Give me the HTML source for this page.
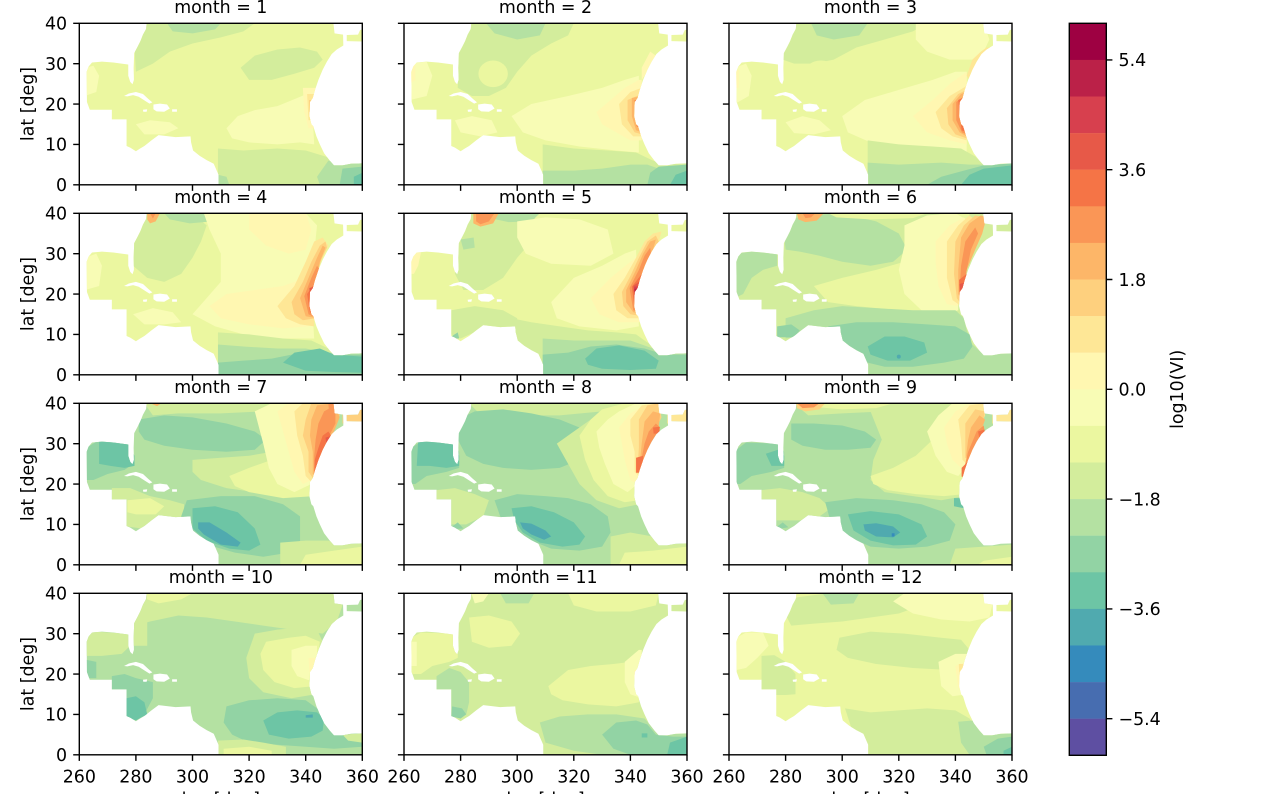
<!DOCTYPE html>
<html><head><meta charset="utf-8"><style>
html,body{margin:0;padding:0;background:#fff;}
svg{display:block;}
text{font-family:"DejaVu Sans","Liberation Sans",sans-serif;font-size:17.4px;fill:#000;}
.c0{fill:#5e4fa2}.c1{fill:#476db0}.c2{fill:#358bbc}.c3{fill:#50aaaf}.c4{fill:#6dc5a5}.c5{fill:#92d3a4}.c6{fill:#b4e1a2}.c7{fill:#d3ed9c}.c8{fill:#ebf7a0}.c9{fill:#f8fcb5}.c10{fill:#fff7b1}.c11{fill:#fee796}.c12{fill:#fed07e}.c13{fill:#fdb668}.c14{fill:#fa9656}.c15{fill:#f57446}.c16{fill:#e75948}.c17{fill:#d7404e}.c18{fill:#bb2148}.c19{fill:#9e0142}
</style></head><body>
<svg width="1280" height="794" viewBox="0 0 1280 794" xmlns="http://www.w3.org/2000/svg">
<defs>
<clipPath id="oc" clipPathUnits="userSpaceOnUse">
<path d="M283.8,40 L349.8,40 L350.2,37.5 L353.2,37.2 L353.3,34.5 L351,33.5 L349.2,32.4 L347.5,30.5 L346,28.5 L344.5,26 L343.3,23.5 L342.5,21.5 L341.5,20.5 L341.3,17 L342,15 L342.7,14.5 L343.8,12 L345,10 L346.5,7.8 L348.5,6 L350,4.8 L353,4.8 L356,5.2 L360,5.3 L360,0 L309.2,0 L309.2,2.5 L307.5,5.2 L305,6.1 L302.5,7.2 L300.2,8.5 L299.5,10.5 L299.3,12 L294,11.8 L288,12.3 L285.5,11 L283,9.6 L281.5,9 L280,8.3 L278,9.2 L276.7,9.6 L276.7,16.2 L271.5,16.2 L271.5,18.6 L263.7,18.6 L262.7,20.5 L262.6,28 L263.3,29.3 L264.5,30.3 L268,30.5 L272,30.3 L277.3,29.8 L277.3,27 L278,25.5 L278.8,24.9 L279.3,26 L279.2,29 L279.4,32.6 L280.6,34.2 L281.6,35.6 L282.5,37.2 L283.6,38.6 Z M354.5,37.1 L358.5,37.2 L359.2,38.3 L360,38.5 L360,35.5 L354.5,35.6 Z"/>
</clipPath>
<g id="isl" fill="#fff">
<path d="M275.8,22 L277.5,22.6 L280,23 L282.5,22.5 L284.3,21.3 L285.8,20.4 L284.8,20.1 L283,20.9 L281,21.8 L279,22.2 L277,21.9 Z"/>
<path d="M286.2,19.9 L288.5,20.1 L291,19.9 L292,18.9 L290,18.1 L287.3,18.2 L286.2,18.7 Z"/>
<path d="M282.5,18.6 L284,18.7 L283.8,18.1 L282.6,18.1 Z"/>
<path d="M292.8,18.7 L294.5,18.7 L294.5,18.1 L292.8,18.1 Z"/>
</g>
<g id="ax" fill="none" stroke="#000" stroke-width="1.4">
<rect x="0" y="0" width="283" height="161.5"/>
<path d="M0,161.5v6.1M56.6,161.5v6.1M113.2,161.5v6.1M169.8,161.5v6.1M226.4,161.5v6.1M283,161.5v6.1M0,0h-6.1M0,40.4h-6.1M0,80.75h-6.1M0,121.1h-6.1M0,161.5h-6.1"/>
</g>
</defs>
<rect x="0" y="0" width="1280" height="794" fill="#fff"/>

<!-- Month 1 -->
<g transform="translate(79.3,23.3) scale(2.83,-4.0375) translate(-260,-40)">
<g clip-path="url(#oc)">
<rect class="c8" x="259" y="-1" width="102" height="42"/>
<path class="c7" d="M279,40 L322,40 L318,38 L310,36.5 L300,35 L292,33 L286,30 L280,28 Z"/>
<path class="c6" d="M291,40 L310,40 L308,38.5 L300,37.5 L293,38 Z"/>
<path class="c7" d="M317,29 L322,32 L330,33.5 L338,34 L344,33 L346,31 L343,29 L336,27.5 L328,26 L320,26 Z"/>
<path class="c9" d="M312,14 L316,17 L322,18.5 L330,19.5 L337,21.5 L342,23 L343,10 L338,10.5 L330,10 L320,10.5 L314,11.5 Z"/>
<path class="c9" d="M280,15 L285,16 L292,15.5 L295,14 L290,12.5 L283,12.5 Z"/>
<path class="c9" d="M262,22 L262,29 L265,29.5 L267,27 L266,23 Z"/>
<path class="c10" d="M339,24 L343.5,24 L343.5,14 L341,14 L339.5,18 Z"/>
<path class="c11" d="M340.5,22.5 L343.5,22.5 L343.5,16 L341,16 Z"/>
<path class="c12" d="M341.2,21 L343,21 L343,18 L341.2,18 Z"/>
<path class="c7" d="M309,9 L318,8.5 L330,9 L340,8.5 L347,7 L352,5.5 L360,5.5 L360,0 L309,0 Z"/>
<path class="c6" d="M348,6 L352,5.5 L360,5.5 L360,0 L345,0 L344,2 Z"/>
<path class="c5" d="M353,4 L360,4.5 L360,0 L352,0 Z"/>
<path class="c4" d="M357,2 L360,3 L360,0 L357,0 Z"/>
<path class="c6" d="M309,2.5 L312,2 L313,0 L309,0 Z"/>
</g>
<use href="#isl"/>
</g>

<!-- Month 2 -->
<g transform="translate(404,23.3) scale(2.83,-4.0375) translate(-260,-40)">
<g clip-path="url(#oc)">
<rect class="c8" x="259" y="-1" width="102" height="42"/>
<path class="c7" d="M279,40 L320,40 L318,37 L312,35 L305,32 L300,28 L296,24 L290,22 L284,22 L279,24 Z"/>
<path class="c6" d="M289,40 L310,40 L308,37 L300,36 L292,37.5 Z"/>
<ellipse class="c8" cx="291.5" cy="27.5" rx="5.2" ry="3.3"/>
<path class="c9" d="M298,17 L305,20 L318,22 L330,24 L338,26 L343,27 L343,8 L335,8.5 L322,9.5 L310,11 L302,13 Z"/>
<path class="c9" d="M262,21 L262,30 L268,30.5 L270,27 L268,22 Z"/>
<path class="c10" d="M262,25 L262,30 L264,30 L264,26 Z"/>
<path class="c9" d="M278,16 L284,17 L291,16 L293,13 L287,12 L280,13 Z"/>
<path class="c10" d="M344,29 L347,33 L349,32 L346,28 L344,26 Z"/>
<path class="c10" d="M328,18 L333,21 L338,24 L343,26 L344,26 L344,11 L340,11 L335,13 L330,15 Z"/>
<path class="c11" d="M336,20 L340,23 L344,24 L344,12 L341,12 L337,15 Z"/>
<path class="c12" d="M339,21 L344,22.5 L344,12.5 L341.5,13 L339,16 Z"/>
<path class="c13" d="M340.5,21.5 L344,22 L344,13 L342,13.5 L340.5,17 Z"/>
<path class="c15" d="M341.5,21 L344,21 L344,14 L342.2,14.5 Z"/>
<path class="c7" d="M309,10 L320,9 L332,8.5 L342,8 L348,6 L352,5 L360,5.3 L360,0 L309,0 Z"/>
<path class="c6" d="M309,3.5 L320,3.5 L330,4 L340,5 L346,5 L350,4 L360,4 L360,0 L309,0 Z"/>
<path class="c5" d="M346,0 L347,3 L350,4.5 L360,5 L360,0 Z"/>
<path class="c4" d="M354,0 L356,2.5 L360,3.5 L360,0 Z"/>
</g>
<use href="#isl"/>
</g>

<!-- Month 3 -->
<g transform="translate(729,23.3) scale(2.83,-4.0375) translate(-260,-40)">
<g clip-path="url(#oc)">
<rect class="c8" x="259" y="-1" width="102" height="42"/>
<path class="c7" d="M279,40 L330,40 L325,38 L315,36 L305,34 L297,31 L290,30 L283,30 L279,31 Z"/>
<path class="c6" d="M289,40 L309,40 L306,37 L297,36 L291,37 Z"/>
<ellipse class="c8" cx="292.5" cy="27.5" rx="6" ry="3.3"/>
<path class="c9" d="M326,40 L350,40 L352,36 L350,33 L346,31 L338,31 L330,33 L326,36 Z"/>
<path class="c9" d="M300,17 L308,21 L320,23.5 L332,26 L340,28 L344,28 L344,8 L335,8.5 L322,9 L310,10.5 L302,13 Z"/>
<path class="c9" d="M280,15.5 L286,17 L292,16 L296,13.5 L290,12.5 L283,12.8 Z"/>
<path class="c9" d="M262,20 L262,29 L266,30 L268,27 L267,22 Z"/>
<path class="c10" d="M262,24 L262,28 L263.5,28.5 L263.5,24 Z"/>
<path class="c10" d="M325,17 L332,21 L338,25 L344,28 L344,10 L338,11 L330,13 Z"/>
<path class="c11" d="M344,27 L346,31 L349,33 L351,34 L353.5,34 L353,33 L350,32 L347,29 L345,26 Z"/>
<path class="c11" d="M333,18 L338,22 L344,24.5 L344,11 L339,12 L335,14 Z"/>
<path class="c12" d="M337,19 L341,22.5 L344,23.5 L344,11.5 L340,12.5 L337.5,15 Z"/>
<path class="c13" d="M339,20 L342,22.5 L344,23 L344,12 L341.5,13 L339,16 Z"/>
<path class="c14" d="M340.3,20.5 L344,22.5 L344,12.5 L342.3,13 L340.3,16 Z"/>
<path class="c15" d="M341,21 L344,22 L344,13 L342.2,13.5 Z"/>
<path class="c16" d="M341.6,20.5 L344,20.5 L344,15 L342.2,15 Z"/>
<path class="c7" d="M309,11 L320,10 L332,9.5 L342,9 L347,7 L350,5 L360,5.3 L360,0 L309,0 Z"/>
<path class="c6" d="M309,5.5 L320,5 L335,5.5 L345,5 L360,5 L360,0 L309,0 Z"/>
<path class="c5" d="M330,0 L335,2 L343,3.5 L350,4.8 L360,5.3 L360,0 Z"/>
<path class="c4" d="M342,0 L345,2.5 L350,4 L360,4.8 L360,0 Z"/>
</g>
<use href="#isl"/>
</g>

<!-- Month 4 -->
<g transform="translate(79.3,213.3) scale(2.83,-4.0375) translate(-260,-40)">
<g clip-path="url(#oc)">
<rect class="c8" x="259" y="-1" width="102" height="42"/>
<path class="c7" d="M279,40 L300,40 L305,37 L303,33 L300,29 L296,25 L290,23 L284,24 L279,27 Z"/>
<path class="c6" d="M290,40 L310,40 L307,38 L299,37.5 L292,38.5 Z"/>
<path class="c13" d="M284,40 L288.5,40 L287,38 L285,37.5 L284,38.5 Z"/>
<path class="c14" d="M285,40 L287,40 L286,38.7 Z"/>
<path class="c9" d="M304,40 L340,40 L344,37 L343,30 L342,20 L343,9 L330,9 L318,10 L308,12 L300,15 L305,19 L310,23 L310,30 L306,36 Z"/>
<path class="c9" d="M279,15 L286,16.5 L293,15.5 L296,13 L290,12.5 L283,12.5 Z"/>
<path class="c9" d="M262,21 L262,29 L266,30 L268,27 L267,22 Z"/>
<path class="c10" d="M320,40 L340,40 L342,36 L340,31 L334,30 L326,32 L320,36 Z"/>
<path class="c10" d="M306,17 L312,20 L322,21 L332,22 L340,24 L341,12 L332,11.5 L320,12.5 L310,14 Z"/>
<path class="c11" d="M330,17 L336,22 L340,28 L343,33 L346,34 L348,32 L346,29 L344,26 L343,22 L343,12 L338,12.5 L333,14 Z"/>
<path class="c12" d="M335,18 L339,23 L342,28 L345,32 L347,33 L347.5,31.5 L345.5,28.5 L344,25 L343.5,14 L339,13.5 L336,15 Z"/>
<path class="c13" d="M338,19 L341,24 L344,29 L346,32 L347,31.5 L345,28 L344,24 L344,14 L340,14.5 Z"/>
<path class="c14" d="M339.5,19.5 L342,24 L344,27 L345,26 L344,24 L344,14 L341,15 Z"/>
<path class="c15" d="M340.5,20 L344,23.5 L344,14.5 L341.5,15.5 Z"/>
<path class="c16" d="M341.3,21.5 L344,22 L344,15 L342,15.5 Z"/>
<path class="c7" d="M309,10.5 L320,10 L332,9 L342,8.5 L348,6.5 L360,5.5 L360,0 L309,0 Z"/>
<path class="c6" d="M309,7.5 L318,7 L330,6.5 L340,6.5 L348,5.5 L360,5.5 L360,0 L309,0 Z"/>
<path class="c5" d="M309,3 L318,3.5 L328,4 L335,5 L345,5 L360,5 L360,0 L309,0 Z"/>
<path class="c4" d="M332,3 L336,5.5 L345,6.5 L350,5 L360,4.5 L360,0.5 L350,0.7 L340,1 Z"/>
</g>
<use href="#isl"/>
</g>

<!-- Month 5 -->
<g transform="translate(404,213.3) scale(2.83,-4.0375) translate(-260,-40)">
<g clip-path="url(#oc)">
<rect class="c8" x="259" y="-1" width="102" height="42"/>
<path class="c7" d="M279,40 L305,40 L308,37 L305,33 L300,29 L295,24 L288,21 L281,21 L278,25 Z"/>
<path class="c6" d="M290,40 L308,40 L305,38 L297,37.8 L291,38.7 Z"/>
<path class="c6" d="M280,33.5 L284.6,34 L285,31.5 L281,31 Z"/>
<path class="c13" d="M284.5,40 L293.5,40 L291.5,37.5 L287,36.7 L284.5,37.5 Z"/>
<path class="c14" d="M285.5,40 L292,40 L290,38 L287,37.3 L285.5,38 Z"/>
<path class="c9" d="M300,38 L310,39 L322,38.5 L332,36 L334,30 L326,27 L312,27.5 L303,30 L300,34 Z"/>
<path class="c9" d="M312,18 L320,24 L330,27 L338,30 L342,31 L343,12 L335,11 L322,12 L314,14 Z"/>
<path class="c10" d="M262,25 L262,30.3 L266,30.3 L265,27 L263.5,25 Z"/>
<path class="c10" d="M326,19 L333,24 L340,28 L344,30 L344,13 L336,13 L329,15 Z"/>
<path class="c11" d="M334,20 L338,24 L342,29 L345,33 L348,35 L351,35.5 L350,33 L347,30 L345,27 L344,14 L339,14 L335,16 Z"/>
<path class="c12" d="M337,20.5 L340,24.5 L343,29 L346,33 L349,34.5 L350,33 L347,30 L344.5,26 L344,14.5 L340,15 L337.5,17 Z"/>
<path class="c13" d="M338.5,21 L342,26 L344.5,30 L347,33 L349,33.5 L348,31 L345.5,28 L344,24 L344,15 L341,15.5 L338.5,18 Z"/>
<path class="c14" d="M339.7,21.5 L343,26 L345,29.5 L347,31.5 L347.3,30 L345,27 L344,23 L344,15.5 L341,16 Z"/>
<path class="c15" d="M340.5,21.8 L344,25 L344,16 L341.5,16.5 Z"/>
<path class="c16" d="M341,22 L344,23.5 L344,16.5 L341.7,17 Z"/>
<path class="c17" d="M341.3,21.8 L344,22 L344,17 L341.8,17.5 Z"/>
<path class="c18" d="M341.4,21.3 L344,21.3 L344,18.2 L341.6,18.2 Z"/>
<path class="c7" d="M276.7,16 L285,17 L295,16 L300,14 L300,10 L288,11.5 L280,9 L276.7,10 Z"/>
<path class="c5" d="M276.7,9.5 L279,10.5 L279.5,9 L277,9 Z"/>
<path class="c7" d="M298,14 L305,13 L315,12 L325,11 L335,10.5 L342,10 L346,8 L360,5.5 L360,0 L309,0 L298,8 Z"/>
<path class="c6" d="M309,9 L320,8.5 L330,8.5 L340,8.5 L346,7 L352,5.5 L360,5.5 L360,0 L309,0 Z"/>
<path class="c5" d="M309,5 L318,5.5 L326,7 L335,7.5 L345,6.5 L352,5 L360,5 L360,0 L309,0 Z"/>
<path class="c4" d="M324,4 L328,6.5 L336,7.3 L345,6 L350,3.5 L349,1.5 L340,1.2 L330,1.5 L325,2.5 Z"/>
</g>
<use href="#isl"/>
</g>

<!-- Month 6 -->
<g transform="translate(729,213.3) scale(2.83,-4.0375) translate(-260,-40)">
<g clip-path="url(#oc)">
<rect class="c7" x="259" y="-1" width="102" height="42"/>
<path class="c6" d="M279,38 L287,39.5 L300,40 L312,38 L320,35 L323,31 L318,28 L310,27 L300,28 L292,29.5 L285,30.5 L280,31 Z"/>
<path class="c8" d="M295,40 L330,40 L325,38.8 L310,38.5 L298,39 Z"/>
<path class="c13" d="M284,40 L293.5,40 L291,38.2 L287,37.8 L284.5,38.5 Z"/>
<path class="c14" d="M286,40 L290.5,40 L289,39 L287,38.8 Z"/>
<path class="c6" d="M262,19 L262,30 L268,30.5 L277,30 L277,27 L272,26 L268,24 L265,20 Z"/>
<path class="c8" d="M290,22 L300,24 L312,26 L322,28 L328,33 L330,38 L335,40 L345,40 L343,30 L340,24 L340,16 L332,15.5 L320,16 L305,17 L295,18 Z"/>
<path class="c9" d="M322,37 L330,39.5 L340,40 L345,38 L344,32 L341,25 L341,16 L336,15 L328,16 L322,20 L320,26 L322,32 Z"/>
<path class="c10" d="M333,33 L338,37 L343,39 L347,36 L345,30 L341,24 L341,17 L337,17.5 L334,22 L333,28 Z"/>
<path class="c11" d="M337,33 L341,37 L345,39.5 L349,37 L347,32 L343,26 L342,17 L339,18.5 L337,24 Z"/>
<path class="c12" d="M340,33 L343,37 L347,39.5 L350,39 L349,35 L346,30 L343,24 L342.5,17 L340.5,19 L339.5,25 Z"/>
<path class="c13" d="M342,34 L345,37.5 L349,39.5 L351,39 L349.5,35 L347,31 L344,26 L342.5,18 L341,20 L341,26 Z"/>
<path class="c14" d="M343.5,33 L347,36.5 L348,35 L345.5,31 L344,26 L342.5,19 L341.5,21 L342,27 Z"/>
<path class="c15" d="M341.3,23.5 L344,25 L344,17 L341.5,17.2 Z"/>
<path class="c16" d="M341.5,22.5 L344,23 L344,17.5 L341.8,17.8 Z"/>
<path class="c6" d="M280,14 L290,16 L300,17 L312,16.5 L325,16 L340,16 L343,14 L344,11 L346,7.5 L350,5 L360,5.3 L360,0 L309,0 L300,8 L290,10 L280,9 Z"/>
<path class="c5" d="M277,12 L282,12.5 L285,11 L283,9.3 L277,9.3 Z"/>
<path class="c5" d="M295,12 L305,13 L318,13 L330,12.5 L340,12 L345,10 L346,7 L343,4 L336,3 L325,2 L315,2 L309,3 L303,6 L298,9 Z"/>
<path class="c4" d="M309,7 L315,9.5 L322,9.5 L329,8 L330,5.5 L324,3.5 L316,3.5 L310,5 Z"/>
<ellipse class="c3" cx="320" cy="4.5" rx="0.7" ry="0.5"/>
</g>
<use href="#isl"/>
</g>

<!-- Month 7 -->
<g transform="translate(79.3,403.3) scale(2.83,-4.0375) translate(-260,-40)">
<g clip-path="url(#oc)">
<rect class="c6" x="259" y="-1" width="102" height="42"/>
<path class="c7" d="M283,40 L330,40 L325,38 L310,37.5 L295,37.5 L286,37 Z"/>
<path class="c13" d="M285,40 L289,40 L287.5,39.3 Z"/>
<path class="c5" d="M281,36 L290,37 L300,36.5 L312,35 L322,33 L326,31 L322,28.5 L312,28 L300,28.5 L290,29.5 L283,31 L281,33 Z"/>
<path class="c5" d="M262.6,21 L262.6,29 L266,30.5 L272,30.5 L277.3,30 L279,28 L279,25 L276,23.5 L270,22.5 L265,21 Z"/>
<path class="c4" d="M267,25 L267,30.5 L274,30.5 L277.3,30 L279.5,27 L279.5,24.5 L276,24 L271,24.5 Z"/>
<path class="c7" d="M300,26 L310,26.5 L320,27 L328,28 L332,30 L332,18 L322,18 L312,19 L303,21 L300,23 Z"/>
<path class="c8" d="M313,22 L320,24 L328,26 L332,30 L335,34 L338,38 L340,40 L350,40 L346,34 L343,26 L343,17 L332,16.5 L320,18 L315,19.5 Z"/>
<path class="c9" d="M322,38 L328,40 L348,40 L347,36 L344,32 L342,26 L342,20 L336,18 L330,20 L327,24 L325,30 Z"/>
<path class="c10" d="M330,38 L334,40 L350,40 L349,36 L346,32 L343,27 L342,21 L339,20 L336,23 L334,28 L332,33 Z"/>
<path class="c11" d="M336,38 L339,40 L350,40 L351,37 L348,33 L345,29 L343,24 L342,20.5 L340,22 L339,27 L337,32 Z"/>
<path class="c12" d="M340,36 L342,40 L351,40 L352,37 L349.5,33 L346,29 L344,25 L343,21 L341,23 L341,28 L339,32 Z"/>
<path class="c12" d="M353,39 L360,39 L360,35 L353,35 Z"/>
<path class="c13" d="M342,36 L344,39.5 L350,40 L352,36.5 L350,33 L347,30 L345,26 L344,22 L342.5,22.5 L342.5,28 L341.5,32 Z"/>
<path class="c14" d="M344.5,35 L346.5,38 L349,39 L350.5,35 L348,31.5 L346,29 L344.5,25 L343,22.5 L343,27 L343.5,31 Z"/>
<path class="c14" d="M348,40 L350.5,40 L350.5,35 L348.5,35.5 Z"/>
<path class="c15" d="M346,32 L348,33 L350,31 L348,29.5 L346,28 L344.5,25 L343,22.5 L343.2,26 L344.5,29 Z"/>
<path class="c16" d="M347,31.5 L349.5,32 L349.5,29.5 L347.5,29.3 Z"/>
<path class="c7" d="M271.5,19 L278,19 L285,17 L292,16 L297,15 L297,11 L288,11.5 L282,9 L276.7,9.5 L276.7,16 L271.5,16.2 Z"/>
<path class="c8" d="M277,16 L285,16.5 L290,14.5 L287,12.5 L280,12.5 L277,13 Z"/>
<path class="c5" d="M298,16 L310,17 L322,17 L332,15 L338,12 L338,6 L334,3 L325,2 L315,3 L305,5 L298,9 L296,12 Z"/>
<path class="c4" d="M300,14 L308,14.5 L316,13 L322,9 L324,5 L320,3.5 L313,4 L305,6 L300,9 Z"/>
<path class="c3" d="M302,10.5 L306,10.5 L312,8 L317,5.5 L316,4.5 L310,5 L304,7.5 L302,9 Z"/>
<path class="c7" d="M331,5.5 L340,6 L348,6 L352,5 L360,5.3 L360,0 L331,0 Z"/>
<path class="c8" d="M340,2.5 L350,3.5 L360,4.5 L360,0 L338,0 Z"/>
</g>
<use href="#isl"/>
</g>

<!-- Month 8 -->
<g transform="translate(404,403.3) scale(2.83,-4.0375) translate(-260,-40)">
<g clip-path="url(#oc)">
<rect class="c6" x="259" y="-1" width="102" height="42"/>
<path class="c7" d="M283,40 L335,40 L330,38 L315,37 L300,37 L288,36.5 Z"/>
<path class="c5" d="M279,36 L285,38 L295,38.5 L305,37.5 L315,36 L322,34 L326,30 L322,26 L315,24 L305,23.5 L295,24 L288,25 L282,27 L279,31 Z"/>
<path class="c5" d="M262.6,20 L262.6,29 L266,30.5 L277.3,30 L279.5,28 L279.5,24 L275,23 L268,22 L264,20 Z"/>
<path class="c4" d="M264.5,24.5 L265,30.5 L273,30.5 L277.3,30 L279.5,27 L279.5,24.5 L275,24 L269,24.5 Z"/>
<path class="c7" d="M314,30 L320,33 L326,36 L330,38 L333,40 L350,40 L347,33 L343,25 L343,15 L336,14 L328,16 L322,20 L318,25 Z"/>
<path class="c8" d="M322,32 L326,36 L330,38.5 L338,40 L350,40 L347,34 L343,26 L343,16 L338,15.5 L332,17 L327,21 L324,26 Z"/>
<path class="c9" d="M328,33 L332,36 L336,38 L342,40 L349,40 L347,35 L344,29 L342.5,20 L339,18 L334,20 L331,25 L329,29 Z"/>
<path class="c10" d="M336,34 L340,37.5 L346,40 L350,40 L349.5,36 L346,31 L343.5,25 L342.5,20 L340,21 L338,26 L337,30 Z"/>
<path class="c11" d="M340,36 L344,39.5 L350,40 L350,36 L347,32 L345,27 L343,22 L341.5,23 L341.5,28 L340,32 Z"/>
<path class="c11" d="M353,39 L360,39 L360,35 L353,35 Z"/>
<path class="c12" d="M343,36 L346,39.5 L350,40 L351,36.5 L348.5,33 L346,28 L344,23.5 L342.5,24 L343,29 Z"/>
<path class="c13" d="M345,35.5 L348,38 L350.5,37.5 L350,34 L347.5,31 L345.5,27 L344,23.5 L343.3,25 L344,30 Z"/>
<path class="c14" d="M346.5,33 L349,35 L350.5,34 L348.5,31 L346,28 L344.5,24.5 L343.7,25.5 L345,30 Z"/>
<path class="c15" d="M342,26.5 L344.5,27 L344.5,22.8 L342,22.8 Z"/>
<path class="c15" d="M348,34 L350.3,34.2 L350.3,32.5 L348.2,32.5 Z"/>
<path class="c7" d="M271.5,18.5 L278,19 L285,17.5 L290,16 L288,12 L282,10 L276.7,10 L276.7,16.2 L271.5,16.2 Z"/>
<path class="c5" d="M276.7,9.3 L279,10.5 L281,9 L277,8.8 Z"/>
<path class="c5" d="M292,16 L300,17.5 L310,17 L318,16.5 L326,15 L332,12 L333,8 L330,4.5 L322,3.5 L312,4 L305,6 L298,9.5 L294,12 Z"/>
<path class="c4" d="M298,14 L305,14.5 L313,13 L320,10.5 L324,7 L322,5 L316,4.5 L308,5.5 L302,8 L299,11 Z"/>
<path class="c3" d="M301,10.5 L305,10.2 L310,8.5 L312,7 L309.5,6.2 L305,7.5 L302,9 Z"/>
<path class="c7" d="M333,7 L340,8 L348,7 L352,5 L360,5.3 L360,0 L333,0 Z"/>
<path class="c8" d="M338,3 L348,3.5 L360,4.5 L360,0 L336,0 Z"/>
</g>
<use href="#isl"/>
</g>

<!-- Month 9 -->
<g transform="translate(729,403.3) scale(2.83,-4.0375) translate(-260,-40)">
<g clip-path="url(#oc)">
<rect class="c6" x="259" y="-1" width="102" height="42"/>
<path class="c7" d="M283,40 L320,40 L315,38 L300,37.5 L288,37 Z"/>
<path class="c8" d="M290,40 L318,40 L312,38.8 L300,38.5 L292,39 Z"/>
<path class="c12" d="M283.8,40 L294,40 L292,38.5 L287,38 L284,38.8 Z"/>
<path class="c14" d="M284,40 L292,40 L290,39 L286,38.8 Z"/>
<path class="c5" d="M282,35 L290,35 L300,34.5 L308,33 L312,31 L310,29 L302,28.5 L294,28.5 L286,29.5 L282,31 Z"/>
<path class="c5" d="M262.6,20 L262.6,28.5 L266,30.3 L277.3,30 L279.5,28 L279.5,24 L275,23 L268,22 L264,20 Z"/>
<path class="c4" d="M273,27.5 L277.3,28.5 L279.5,27 L279.5,24.5 L275,24.5 Z"/>
<path class="c7" d="M310,38 L318,40 L350,40 L348,34 L344,26 L343,17 L335,16 L325,17 L315,18 L310,21 L311,26 L314,31 Z"/>
<path class="c8" d="M310,22 L318,24 L326,27 L332,31 L336,36 L340,40 L350,40 L347,34 L344,27 L343,17.5 L336,17 L326,17.5 L316,18.5 L311,20 Z"/>
<path class="c9" d="M330,33 L334,37 L339,40 L350,40 L348,35 L345,29 L343.5,24 L341,22 L337,23 L333,27 Z"/>
<path class="c10" d="M336,34 L340,38 L345,40 L350,40 L349,36 L346,31 L344,26 L342,24 L339,26 L337,30 Z"/>
<path class="c11" d="M341,36 L345,39.5 L350,40 L350.5,37 L348,33 L346,29 L344,25 L342.5,26 L342,31 Z"/>
<path class="c11" d="M353,39 L360,39 L360,35 L353,35 Z"/>
<path class="c12" d="M343.5,35 L347,38.5 L350.5,38 L349.5,34 L347,30 L345,26 L343.5,26.5 L343.5,31 Z"/>
<path class="c13" d="M345.5,34 L348.5,37 L350.5,36 L348.5,32 L346,28.5 L344.5,25.5 L343.8,27 L344.5,31 Z"/>
<path class="c14" d="M347.5,33 L350,34.5 L350.5,32.5 L348.5,30.5 L346,27 L344,23 L343.3,24.5 L344.5,28 Z"/>
<path class="c15" d="M342.2,24 L344.3,25.5 L344.3,21.8 L342.2,21.8 Z"/>
<path class="c15" d="M348,33 L350.3,33.5 L350.3,31.5 L348.5,31.2 Z"/>
<path class="c7" d="M271.5,18.5 L278,19 L286,18 L292,16.5 L296,14 L292,12 L285,11 L276.7,11 L276.7,16.2 L271.5,16.2 Z"/>
<path class="c5" d="M276.7,9.3 L279,10.5 L281,9.3 L277,8.8 Z"/>
<path class="c5" d="M294,15.5 L305,16.5 L318,16 L328,15 L336,13 L340,10 L338,6 L330,4.5 L320,4 L310,4.5 L302,7 L296,10.5 Z"/>
<path class="c4" d="M302,12.5 L310,13.3 L320,12.5 L328,10 L330,7 L326,5 L318,4.8 L310,6 L304,8.5 Z"/>
<path class="c3" d="M307.5,10 L312,10.3 L318,9.5 L320.5,8 L318,6.8 L312,7 L308,8.5 Z"/>
<path class="c2" d="M317.5,7.8 L318.5,7.8 L318.5,7 L317.5,7 Z"/>
<path class="c4" d="M339.5,16.5 L343,16.5 L343,14 L339.5,14.5 Z"/>
<path class="c7" d="M340,4 L350,4.5 L360,5 L360,0 L338,0 Z"/>
<path class="c8" d="M350,1 L360,2 L360,0 L348,0 Z"/>
</g>
<use href="#isl"/>
</g>

<!-- Month 10 -->
<g transform="translate(79.3,593.3) scale(2.83,-4.0375) translate(-260,-40)">
<g clip-path="url(#oc)">
<rect class="c6" x="259" y="-1" width="102" height="42"/>
<path class="c7" d="M279,35 L283,40 L350,40 L353,37 L351,33 L346,30 L335,31 L325,32 L315,33 L305,34 L295,34.5 L285,33 L280,32 Z"/>
<path class="c7" d="M279,33 L284,33.5 L284,27 L279,27 Z"/>
<path class="c8" d="M283.8,40 L300,40 L296,38.5 L288,37.5 L284,38.5 Z"/>
<path class="c7" d="M262.6,24.5 L262.6,29 L265,30.5 L277.3,30 L278,27 L275,25 L268,24.5 Z"/>
<path class="c5" d="M262.6,19 L262.6,23.5 L266,23 L266,19 Z"/>
<path class="c5" d="M271.5,19.5 L276,20 L280,19 L286,18 L286,14 L283,10 L280,8.8 L276.7,9.3 L276.7,16.2 L271.5,16.2 Z"/>
<path class="c4" d="M276.7,14 L280,14.5 L283,13 L284,10 L282,9.3 L280,8.5 L276.7,9.3 Z"/>
<path class="c7" d="M322,30 L330,31 L338,31.5 L344,31 L346,28 L344,23 L343.5,15 L335,14 L325,15.5 L320,19 L319,24 Z"/>
<path class="c8" d="M326,28 L334,29 L340,29.5 L345,28 L344,23 L343,17 L336,16.5 L329,18 L325,21 L324,25 Z"/>
<path class="c9" d="M335,26 L340,27 L344,27 L344,20 L341,18.5 L337,19.5 L335,22 Z"/>
<path class="c10" d="M341,24 L343.5,24 L343.5,20.5 L341.3,20.5 Z"/>
<path class="c5" d="M312,12 L320,13.5 L330,14 L340,13.5 L345,11 L347,8 L350,5 L360,5.3 L360,2 L350,1.5 L340,2 L330,2.5 L320,3 L314,5 L311,8 Z"/>
<path class="c4" d="M325,8.5 L330,10.5 L337,11 L344,10.5 L346.5,9 L346,6 L342,4.5 L334,4 L327,5 Z"/>
<path class="c3" d="M340,9.8 L342.5,10 L342.5,9.2 L340,9.2 Z"/>
<path class="c7" d="M309,3.5 L318,3.8 L325,3 L333,2 L333,0 L309,0 Z"/>
<path class="c8" d="M311,1.5 L320,2 L328,1 L328,0 L311,0 Z"/>
<path class="c7" d="M353,5 L360,5.3 L360,3 L355,3.5 Z"/>
</g>
<use href="#isl"/>
</g>

<!-- Month 11 -->
<g transform="translate(404,593.3) scale(2.83,-4.0375) translate(-260,-40)">
<g clip-path="url(#oc)">
<rect class="c7" x="259" y="-1" width="102" height="42"/>
<path class="c6" d="M294,40 L306,40 L304,37.5 L296,37.5 Z"/>
<path class="c8" d="M318,40 L350,40 L349,37 L340,35.5 L328,35.5 L320,37 Z"/>
<path class="c8" d="M283,34 L290,34.5 L298,33 L301,30 L298,27 L290,26.5 L284,28 Z"/>
<path class="c9" d="M283.8,40 L290,40 L288,38 L285,37.5 Z"/>
<path class="c8" d="M262.6,20 L262.6,29 L266,30.3 L277.3,30 L279,27 L279,24 L276,23 L270,22 L266,20 Z"/>
<path class="c9" d="M262.6,22 L262.6,28 L264.5,28 L264.5,22 Z"/>
<path class="c6" d="M271.5,19.5 L276,21.5 L280,20.5 L283,18 L283,13 L282,10 L276.7,9.5 L276.7,16.2 L271.5,16.2 Z"/>
<path class="c5" d="M276.7,9.5 L277,12 L280.5,11.5 L282,10 L280,9 Z"/>
<path class="c8" d="M311,17 L318,21 L326,22 L334,22.5 L340,23 L343,21 L343,13 L335,12 L325,12.5 L316,13.5 L312,15 Z"/>
<path class="c9" d="M338,23 L343,26 L344,26 L344,14 L340,15 L338,18 Z"/>
<path class="c10" d="M341.3,21 L343.5,21 L343.5,19 L341.3,19 Z"/>
<path class="c11" d="M341.5,20.3 L343.5,20.3 L343.5,19.3 L341.5,19.3 Z"/>
<path class="c6" d="M308,8 L315,9.5 L325,10 L335,10 L345,9 L348,6.5 L352,5 L360,5.3 L360,0 L330,0 L320,1 L310,3 Z"/>
<path class="c5" d="M330,5 L335,8 L342,8.5 L346,7.5 L349,5 L355,4.5 L360,4.5 L360,0 L340,0 L334,1.5 Z"/>
<path class="c4" d="M353,0 L354,3 L360,4.5 L360,0 Z"/>
<path class="c4" d="M344,5.3 L346,5.3 L346,4.3 L344,4.3 Z"/>
</g>
<use href="#isl"/>
</g>

<!-- Month 12 -->
<g transform="translate(729,593.3) scale(2.83,-4.0375) translate(-260,-40)">
<g clip-path="url(#oc)">
<rect class="c8" x="259" y="-1" width="102" height="42"/>
<path class="c7" d="M279,36 L284,39 L295,40 L330,40 L328,37 L320,35 L310,34 L300,33 L290,32.5 L282,32 Z"/>
<path class="c6" d="M293,40 L306,40 L304,37.5 L296,37.2 Z"/>
<path class="c9" d="M318,38 L322,40 L350,40 L353,37 L352,34 L345,33 L335,33.5 L325,35 Z"/>
<path class="c7" d="M299,29 L310,30.5 L322,30 L335,29 L342,28.5 L345,26 L344,22 L338,21 L325,21.5 L312,22.5 L302,24 L298,26 Z"/>
<path class="c9" d="M334,23 L340,25 L344,25 L344,15 L339,14.5 L335,17 Z"/>
<path class="c10" d="M340,22 L343.5,23 L343.5,16 L341,16.5 Z"/>
<path class="c11" d="M341.2,22.5 L343.5,22.5 L343.5,19.4 L341.4,19.4 Z"/>
<path class="c7" d="M271.5,24.5 L276,24.7 L280,23 L283.5,20 L283.5,15 L280,14.8 L276.7,14.8 L276.7,16.2 L271.5,16.2 Z"/>
<path class="c9" d="M262.6,21 L262.6,29 L266,30.3 L272,30.3 L274,27 L270,24 L266,21.5 Z"/>
<path class="c7" d="M301,11.5 L310,10.5 L320,11 L330,11.5 L340,11 L345,9 L348,6 L352,5 L360,5.3 L360,0 L309,0 L304,5 Z"/>
<path class="c6" d="M341,8.2 L346,8.5 L350,5.5 L356,5.2 L360,5.3 L360,0 L345,0 L342,3 Z"/>
<path class="c5" d="M350,2 L355,4 L360,4.5 L360,0 L351,0 Z"/>
<path class="c4" d="M357,1 L360,2 L360,0 L357,0 Z"/>
</g>
<use href="#isl"/>
</g>

<!-- Axes frames and ticks -->
<use href="#ax" x="79.3" y="23.3"/><use href="#ax" x="404" y="23.3"/><use href="#ax" x="729" y="23.3"/>
<use href="#ax" x="79.3" y="213.3"/><use href="#ax" x="404" y="213.3"/><use href="#ax" x="729" y="213.3"/>
<use href="#ax" x="79.3" y="403.3"/><use href="#ax" x="404" y="403.3"/><use href="#ax" x="729" y="403.3"/>
<use href="#ax" x="79.3" y="593.3"/><use href="#ax" x="404" y="593.3"/><use href="#ax" x="729" y="593.3"/>

<!-- Titles -->
<g text-anchor="middle">
<text x="220.8" y="12.9">month = 1</text><text x="545.5" y="12.9">month = 2</text><text x="870.5" y="12.9">month = 3</text>
<text x="220.8" y="202.9">month = 4</text><text x="545.5" y="202.9">month = 5</text><text x="870.5" y="202.9">month = 6</text>
<text x="220.8" y="392.9">month = 7</text><text x="545.5" y="392.9">month = 8</text><text x="870.5" y="392.9">month = 9</text>
<text x="220.8" y="582.9">month = 10</text><text x="545.5" y="582.9">month = 11</text><text x="870.5" y="582.9">month = 12</text>
</g>

<!-- Y tick labels -->
<g text-anchor="end">
<text x="67.1" y="29.6">40</text><text x="67.1" y="70">30</text><text x="67.1" y="110.35">20</text><text x="67.1" y="150.7">10</text><text x="67.1" y="191.1">0</text>
<text x="67.1" y="219.6">40</text><text x="67.1" y="260">30</text><text x="67.1" y="300.35">20</text><text x="67.1" y="340.7">10</text><text x="67.1" y="381.1">0</text>
<text x="67.1" y="409.6">40</text><text x="67.1" y="450">30</text><text x="67.1" y="490.35">20</text><text x="67.1" y="530.7">10</text><text x="67.1" y="571.1">0</text>
<text x="67.1" y="599.6">40</text><text x="67.1" y="640">30</text><text x="67.1" y="680.35">20</text><text x="67.1" y="720.7">10</text><text x="67.1" y="761.1">0</text>
</g>

<!-- Y axis labels -->
<g text-anchor="middle">
<text x="33.5" y="104.05" transform="rotate(-90 33.5 104.05)">lat [deg]</text>
<text x="33.5" y="294.05" transform="rotate(-90 33.5 294.05)">lat [deg]</text>
<text x="33.5" y="484.05" transform="rotate(-90 33.5 484.05)">lat [deg]</text>
<text x="33.5" y="674.05" transform="rotate(-90 33.5 674.05)">lat [deg]</text>
</g>

<!-- X tick labels -->
<g text-anchor="middle">
<text x="79.3" y="782.5">260</text><text x="135.9" y="782.5">280</text><text x="192.5" y="782.5">300</text><text x="249.1" y="782.5">320</text><text x="305.7" y="782.5">340</text><text x="362.3" y="782.5">360</text>
<text x="404" y="782.5">260</text><text x="460.6" y="782.5">280</text><text x="517.2" y="782.5">300</text><text x="573.8" y="782.5">320</text><text x="630.4" y="782.5">340</text><text x="687" y="782.5">360</text>
<text x="729" y="782.5">260</text><text x="785.6" y="782.5">280</text><text x="842.2" y="782.5">300</text><text x="898.8" y="782.5">320</text><text x="955.4" y="782.5">340</text><text x="1012" y="782.5">360</text>
<text x="220.8" y="805">lon [deg]</text><text x="545.5" y="805">lon [deg]</text><text x="870.5" y="805">lon [deg]</text>
</g>

<!-- Colorbar -->
<g>
<rect class="c19" x="1069.3" y="23.3" width="37" height="36.8"/>
<rect class="c18" x="1069.3" y="59.9" width="37" height="36.8"/>
<rect class="c17" x="1069.3" y="96.5" width="37" height="36.8"/>
<rect class="c16" x="1069.3" y="133.1" width="37" height="36.8"/>
<rect class="c15" x="1069.3" y="169.7" width="37" height="36.8"/>
<rect class="c14" x="1069.3" y="206.3" width="37" height="36.8"/>
<rect class="c13" x="1069.3" y="242.9" width="37" height="36.8"/>
<rect class="c12" x="1069.3" y="279.5" width="37" height="36.8"/>
<rect class="c11" x="1069.3" y="316.1" width="37" height="36.8"/>
<rect class="c10" x="1069.3" y="352.7" width="37" height="36.8"/>
<rect class="c9" x="1069.3" y="389.3" width="37" height="36.8"/>
<rect class="c8" x="1069.3" y="425.9" width="37" height="36.8"/>
<rect class="c7" x="1069.3" y="462.5" width="37" height="36.8"/>
<rect class="c6" x="1069.3" y="499.1" width="37" height="36.8"/>
<rect class="c5" x="1069.3" y="535.7" width="37" height="36.8"/>
<rect class="c4" x="1069.3" y="572.3" width="37" height="36.8"/>
<rect class="c3" x="1069.3" y="608.9" width="37" height="36.8"/>
<rect class="c2" x="1069.3" y="645.5" width="37" height="36.8"/>
<rect class="c1" x="1069.3" y="682.1" width="37" height="36.8"/>
<rect class="c0" x="1069.3" y="718.7" width="37" height="36.6"/>
<rect x="1069.3" y="23.3" width="37" height="732" fill="none" stroke="#000" stroke-width="1.4"/>
<path d="M1106.3,59.9h6.1M1106.3,169.7h6.1M1106.3,279.5h6.1M1106.3,389.3h6.1M1106.3,499.1h6.1M1106.3,608.9h6.1M1106.3,718.7h6.1" stroke="#000" stroke-width="1.4" fill="none"/>
<text x="1118.5" y="66.2">5.4</text>
<text x="1118.5" y="176">3.6</text>
<text x="1118.5" y="285.8">1.8</text>
<text x="1118.5" y="395.6">0.0</text>
<text x="1118.5" y="505.4">−1.8</text>
<text x="1118.5" y="615.2">−3.6</text>
<text x="1118.5" y="725">−5.4</text>
<text x="1183" y="389.3" text-anchor="middle" transform="rotate(-90 1183 389.3)">log10(VI)</text>
</g>
</svg>
</body></html>
